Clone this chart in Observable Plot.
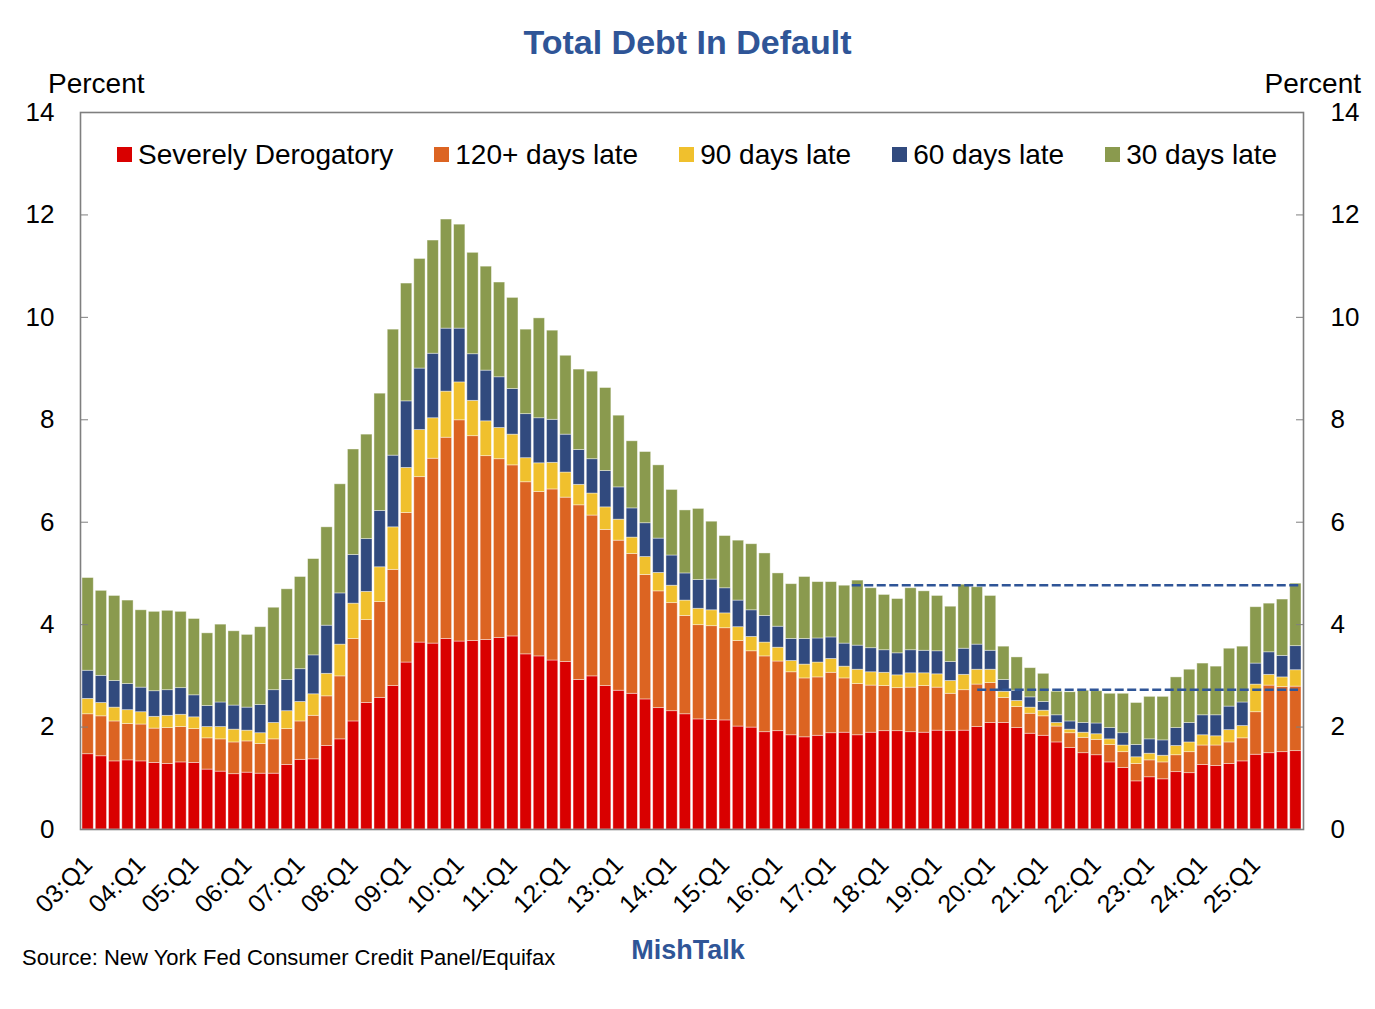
<!DOCTYPE html>
<html>
<head>
<meta charset="utf-8">
<script src="https://cdn.jsdelivr.net/npm/d3@7"></script>
<script src="https://cdn.jsdelivr.net/npm/@observablehq/plot@0.6"></script>
<style>
  html, body { margin: 0; padding: 0; background: #fff; }
  #page { position: relative; width: 1375px; height: 1009px; font-family: "Liberation Sans", Arial, sans-serif; color: #000; overflow: hidden; }
  .abs { position: absolute; line-height: 1; white-space: nowrap; z-index: 2; }
  #title { left: 0; width: 1375px; top: 25px; text-align: center; font-size: 34px; font-weight: bold; color: #2F5597; }
  #pctL { left: 48px; top: 70px; font-size: 28px; }
  #pctR { right: 14px; top: 70px; font-size: 28px; }
  #source { left: 22px; top: 947px; font-size: 22px; }
  #mish { left: 0; width: 1376px; text-align: center; top: 937px; font-size: 27px; font-weight: bold; color: #2F5597; }
  #chart { position: absolute; left: 0; top: 86px; z-index: 1; }
  #legend { position: absolute; left: 117px; top: 138px; width: 1230px; white-space: nowrap; z-index: 2; }
  #legend > div { font-size: 28px !important; font-family: "Liberation Sans", Arial, sans-serif !important; color: #000; line-height: 31px; margin: 0 !important; }
  #legend span { margin-right: 41px !important; }
  #legend svg { margin-right: 6px !important; }
</style>
</head>
<body>
<div id="page">
  <div id="chart"></div>
  <div id="title" class="abs">Total Debt In Default</div>
  <div id="pctL" class="abs">Percent</div>
  <div id="pctR" class="abs">Percent</div>
  <div id="legend"></div>
  <div id="source" class="abs">Source: New York Fed Consumer Credit Panel/Equifax</div>
  <div id="mish" class="abs">MishTalk</div>
</div>
<script>
// ---- categories ----
const years = ["03","04","05","06","07","08","09","10","11","12","13","14","15","16","17","18","19","20","21","22","23","24","25"];
const qNames = ["Q1","Q2","Q3","Q4"];
const quarters = [];
for (const y of years) for (const q of qNames) quarters.push(`${y}:${q}`);
const xTickLabels = quarters.filter(q => q.endsWith("Q1"));
const yTicks = [0, 2, 4, 6, 8, 10, 12, 14];

// ---- series (percent of balance) ----
const seriesNames = ["Severely Derogatory", "120+ days late", "90 days late", "60 days late", "30 days late"];
const seriesColors = ["#D90000", "#DC6422", "#F0C02D", "#314A7E", "#8A9A4E"];

const severe = [1.47,1.43,1.33,1.35, 1.33,1.30,1.28,1.31, 1.30,1.17,1.13,1.08, 1.11,1.09,1.09,1.26,
  1.36,1.37,1.63,1.76, 2.11,2.47,2.57,2.80, 3.26,3.65,3.63,3.72, 3.67,3.68,3.70,3.74,
  3.77,3.42,3.38,3.30, 3.27,2.92,2.99,2.80, 2.71,2.65,2.54,2.37, 2.31,2.25,2.15,2.14,
  2.13,2.01,1.99,1.90, 1.92,1.84,1.80,1.83, 1.88,1.89,1.84,1.89, 1.92,1.92,1.90,1.89,
  1.93,1.92,1.93,2.00, 2.08,2.08,1.98,1.87, 1.83,1.70,1.59,1.49, 1.45,1.31,1.20,0.94,
  1.02,0.98,1.12,1.10, 1.26,1.24,1.28,1.33, 1.46,1.49,1.51,1.53];
const late120 = [0.78,0.78,0.78,0.71, 0.72,0.67,0.70,0.69, 0.66,0.61,0.63,0.62, 0.61,0.58,0.67,0.70,
  0.75,0.85,0.97,1.23, 1.61,1.62,1.87,2.27, 2.92,3.23,3.61,3.93, 4.32,4.00,3.59,3.49,
  3.34,3.36,3.21,3.34, 3.21,3.41,3.14,3.05, 2.93,2.73,2.43,2.28, 2.11,1.92,1.84,1.83,
  1.80,1.67,1.49,1.48, 1.36,1.23,1.15,1.14, 1.18,1.06,1.00,0.92, 0.88,0.84,0.87,0.91,
  0.84,0.73,0.79,0.83, 0.78,0.49,0.41,0.39, 0.38,0.31,0.29,0.30, 0.30,0.34,0.31,0.34,
  0.33,0.33,0.33,0.41, 0.38,0.40,0.42,0.45, 0.83,1.32,1.27,1.26];
const late90 = [0.30,0.26,0.27,0.27, 0.24,0.23,0.24,0.24, 0.23,0.22,0.24,0.25, 0.21,0.21,0.32,0.35,
  0.38,0.42,0.44,0.62, 0.69,0.55,0.68,0.83, 0.88,0.92,0.79,0.90, 0.74,0.69,0.68,0.61,
  0.60,0.47,0.56,0.52, 0.49,0.40,0.43,0.44, 0.41,0.32,0.35,0.36, 0.34,0.30,0.32,0.31,
  0.29,0.27,0.28,0.27, 0.27,0.22,0.27,0.29, 0.27,0.23,0.28,0.26, 0.26,0.25,0.28,0.25,
  0.26,0.25,0.30,0.29, 0.26,0.12,0.12,0.12, 0.11,0.07,0.07,0.10, 0.11,0.11,0.13,0.13,
  0.13,0.13,0.18,0.19, 0.20,0.18,0.24,0.24, 0.54,0.21,0.19,0.32];
const late60 = [0.55,0.53,0.52,0.51, 0.48,0.50,0.50,0.52, 0.43,0.41,0.48,0.47, 0.45,0.55,0.64,0.61,
  0.64,0.76,0.94,1.00, 0.95,1.03,1.10,1.40, 1.30,1.20,1.26,1.23, 1.05,0.91,0.99,0.99,
  0.89,0.86,0.88,0.84, 0.74,0.68,0.67,0.71, 0.63,0.57,0.66,0.67, 0.59,0.53,0.56,0.60,
  0.49,0.52,0.52,0.52, 0.41,0.43,0.50,0.47, 0.42,0.45,0.47,0.47, 0.44,0.43,0.45,0.44,
  0.45,0.37,0.51,0.49, 0.37,0.23,0.20,0.20, 0.17,0.15,0.16,0.19, 0.21,0.22,0.24,0.24,
  0.28,0.30,0.35,0.38, 0.39,0.41,0.46,0.46, 0.41,0.44,0.42,0.47];
const late30 = [1.81,1.66,1.66,1.63, 1.51,1.55,1.55,1.49, 1.49,1.42,1.52,1.45, 1.42,1.52,1.61,1.77,
  1.80,1.88,1.92,2.13, 2.06,2.04,2.29,2.46, 2.30,2.14,2.21,2.13, 2.03,1.98,2.03,1.85,
  1.78,1.65,1.95,1.74, 1.54,1.57,1.71,1.62, 1.40,1.31,1.39,1.43, 1.28,1.23,1.39,1.13,
  1.02,1.17,1.29,1.22, 1.04,1.07,1.21,1.10, 1.08,1.13,1.27,1.17, 1.08,1.06,1.21,1.16,
  1.08,1.08,1.25,1.12, 1.07,0.65,0.65,0.57, 0.55,0.46,0.57,0.63, 0.63,0.67,0.77,0.82,
  0.83,0.85,0.99,1.04, 1.01,0.95,1.13,1.09, 1.10,0.95,1.10,1.22];

// ---- dashed reference levels ----
const refValues = [4.77, 2.73];
const refStart = ["17:Q3", "19:Q4"];
const refEnd = ["25:Q4", "25:Q4"];

const seriesValues = [severe, late120, late90, late60, late30];
const data = quarters.flatMap((q, i) => seriesNames.map((s, k) => ({quarter: q, series: s, value: seriesValues[k][i]})));
const refs = refValues.map((v, i) => ({value: v, start: refStart[i], end: refEnd[i]}));

const font = "'Liberation Sans', Arial, sans-serif";
const chart = Plot.plot({
  width: 1375,
  height: 923,
  marginLeft: 80,
  marginRight: 72,
  marginTop: 26,
  marginBottom: 180,
  style: {fontFamily: font, background: "white", overflow: "visible", color: "#000"},
  x: {type: "band", domain: quarters, padding: 0.15, round: false},
  y: {domain: [0, 14]},
  color: {domain: seriesNames, range: seriesColors},
  marks: [
    Plot.barY(data, {x: "quarter", y: "value", fill: "series", stroke: "white", strokeOpacity: 0.5, strokeWidth: 0.8}),
    Plot.ruleY([refs[0]], {y: "value", x1: "start", x2: "end", stroke: "#2F5597", strokeWidth: 2.6, strokeDasharray: "9,3.5"}),
    Plot.ruleY([refs[1]], {y: "value", x1: "start", x2: "end", stroke: "#2F5597", strokeWidth: 2.6, strokeDasharray: "9,3.5", insetLeft: 6, insetRight: 3}),
    Plot.frame({stroke: "#7f7f7f", strokeWidth: 1.6}),
    Plot.axisY({anchor: "left", ticks: yTicks, tickSize: -8, fill: "none", stroke: "#7f7f7f", label: null}),
    Plot.axisY({anchor: "right", ticks: yTicks, tickSize: -8, fill: "none", stroke: "#7f7f7f", label: null}),
    Plot.axisY({anchor: "left", ticks: yTicks, tickSize: 0, tickPadding: 26, fontSize: 26, fill: "#000", label: null}),
    Plot.axisY({anchor: "right", ticks: yTicks, tickSize: 0, tickPadding: 27, fontSize: 26, fill: "#000", label: null}),
    Plot.axisX({ticks: xTickLabels, tickSize: 0, tickPadding: 31, tickRotate: -45, fontSize: 25, fill: "#000", label: null})
  ]
});
document.getElementById("chart").appendChild(chart);
const legend = chart.legend("color", {swatchSize: 15, style: {fontSize: "28px", fontFamily: font}});
document.getElementById("legend").appendChild(legend);
</script>
</body>
</html>
